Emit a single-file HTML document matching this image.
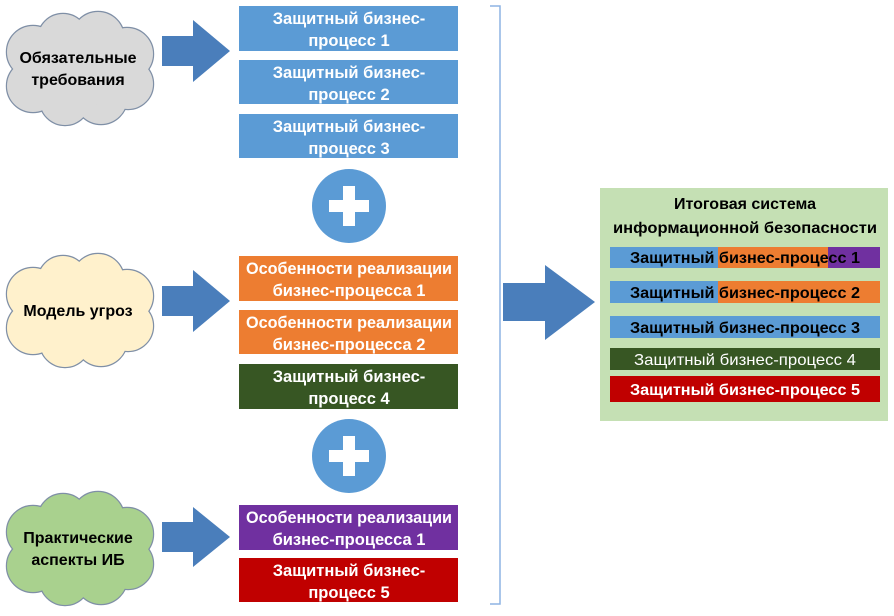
<!DOCTYPE html>
<html><head><meta charset="utf-8"><style>
body{margin:0;background:#fff;width:894px;height:611px;overflow:hidden;font-family:"Liberation Sans",sans-serif}
svg text{font-family:"Liberation Sans","DejaVu Sans",sans-serif;font-weight:bold}
</style></head><body>
<svg width="894" height="611" viewBox="0 0 894 611" xmlns="http://www.w3.org/2000/svg">
<defs>
<g id="cs">
<circle cx="30" cy="40" r="26"/><circle cx="60" cy="27" r="25"/><circle cx="95" cy="26" r="26"/><circle cx="124" cy="42" r="26"/>
<circle cx="125" cy="72" r="25"/><circle cx="98" cy="86" r="26"/><circle cx="62" cy="88" r="25"/><circle cx="30" cy="74" r="26"/><circle cx="75" cy="57" r="40"/>
</g>
</defs>
<g transform="translate(3,12)"><use href="#cs" fill="none" stroke="#7f8fa6" stroke-width="2.4"/><use href="#cs" fill="#d9d9d9"/></g>
<g transform="translate(3,254)"><use href="#cs" fill="none" stroke="#7f8fa6" stroke-width="2.4"/><use href="#cs" fill="#fff1cc"/></g>
<g transform="translate(3,492)"><use href="#cs" fill="none" stroke="#7f8fa6" stroke-width="2.4"/><use href="#cs" fill="#a9d18e"/></g>
<g font-size="16" fill="#000" text-anchor="middle">
<text x="78" y="63">Обязательные</text><text x="78" y="85">требования</text>
<text x="78" y="316">Модель угроз</text>
<text x="78" y="543">Практические</text><text x="78" y="565">аспекты ИБ</text>
</g>
<g fill="#4a7ebb">
<polygon points="162,36 193,36 193,20 230,51 193,82 193,66 162,66"/>
<polygon points="162,286 193,286 193,270 230,301 193,332 193,316 162,316"/>
<polygon points="162,522 193,522 193,507 230,537 193,567 193,552 162,552"/>
<polygon points="503,283 545,283 545,265 595,302 545,340 545,321 503,321"/>
</g>
<g>
<rect x="239" y="6" width="219" height="45" fill="#5b9bd5"/>
<rect x="239" y="60" width="219" height="44" fill="#5b9bd5"/>
<rect x="239" y="114" width="219" height="44" fill="#5b9bd5"/>
<rect x="239" y="256" width="219" height="45" fill="#ed7d31"/>
<rect x="239" y="310" width="219" height="44" fill="#ed7d31"/>
<rect x="239" y="364" width="219" height="45" fill="#375623"/>
<rect x="239" y="505" width="219" height="45" fill="#7030a0"/>
<rect x="239" y="558" width="219" height="44" fill="#c00000"/>
</g>
<g font-size="16.5" fill="#fff" text-anchor="middle">
<text x="349" y="24">Защитный бизнес-</text><text x="349" y="46">процесс 1</text>
<text x="349" y="78">Защитный бизнес-</text><text x="349" y="100">процесс 2</text>
<text x="349" y="132">Защитный бизнес-</text><text x="349" y="154">процесс 3</text>
<text x="349" y="274" textLength="206" lengthAdjust="spacingAndGlyphs">Особенности реализации</text><text x="349" y="296">бизнес-процесса 1</text>
<text x="349" y="328" textLength="206" lengthAdjust="spacingAndGlyphs">Особенности реализации</text><text x="349" y="350">бизнес-процесса 2</text>
<text x="349" y="382">Защитный бизнес-</text><text x="349" y="404">процесс 4</text>
<text x="349" y="523" textLength="206" lengthAdjust="spacingAndGlyphs">Особенности реализации</text><text x="349" y="545">бизнес-процесса 1</text>
<text x="349" y="576">Защитный бизнес-</text><text x="349" y="598">процесс 5</text>
</g>
<g>
<circle cx="349" cy="206" r="37" fill="#5b9bd5"/>
<rect x="329" y="200" width="40" height="12" fill="#fff"/><rect x="343" y="186" width="12" height="40" fill="#fff"/>
<circle cx="349" cy="456" r="37" fill="#5b9bd5"/>
<rect x="329" y="450" width="40" height="12" fill="#fff"/><rect x="343" y="436" width="12" height="40" fill="#fff"/>
</g>
<polyline points="490,6 500,6 500,604 490,604" fill="none" stroke="#8eb4e3" stroke-width="1.5"/>
<rect x="600" y="188" width="288" height="233" fill="#c5e0b4"/>
<g font-size="16" fill="#000" text-anchor="middle">
<text x="745" y="209">Итоговая система</text><text x="745" y="233" textLength="264" lengthAdjust="spacingAndGlyphs">информационной безопасности</text>
</g>
<rect x="610" y="247" width="108" height="21" fill="#5b9bd5"/><rect x="718" y="247" width="110" height="21" fill="#ed7d31"/><rect x="828" y="247" width="52" height="21" fill="#7030a0"/>
<rect x="610" y="281" width="108" height="22" fill="#5b9bd5"/><rect x="718" y="281" width="162" height="22" fill="#ed7d31"/>
<rect x="610" y="316" width="270" height="22" fill="#5b9bd5"/>
<rect x="610" y="348" width="270" height="22" fill="#375623"/>
<rect x="610" y="376" width="270" height="26" fill="#c00000"/>
<g font-size="16" text-anchor="middle">
<text x="745" y="263" fill="#000" textLength="230" lengthAdjust="spacingAndGlyphs">Защитный бизнес-процесс 1</text>
<text x="745" y="298" fill="#000" textLength="230" lengthAdjust="spacingAndGlyphs">Защитный бизнес-процесс 2</text>
<text x="745" y="333" fill="#000" textLength="230" lengthAdjust="spacingAndGlyphs">Защитный бизнес-процесс 3</text>
<text x="745" y="365" fill="#fff" style="font-weight:normal" textLength="222" lengthAdjust="spacingAndGlyphs">Защитный бизнес-процесс 4</text>
<text x="745" y="395" fill="#fff" textLength="230" lengthAdjust="spacingAndGlyphs">Защитный бизнес-процесс 5</text>
</g>
</svg>
</body></html>
